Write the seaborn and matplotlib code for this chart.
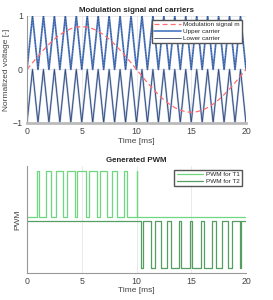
import matplotlib
matplotlib.use("Agg")
import matplotlib.pyplot as plt
import numpy as np
import seaborn as sns

# time grid (ms) shared by the modulation signal and the carrier vertices
t_grid = np.arange(0, 20.5, 0.5)

mod_m = [0.0, 0.125, 0.247, 0.363, 0.470, 0.566, 0.647, 0.713, 0.761, 0.790,
         0.800, 0.790, 0.761, 0.713, 0.647, 0.566, 0.470, 0.363, 0.247, 0.125,
         0.0, -0.125, -0.247, -0.363, -0.470, -0.566, -0.647, -0.713, -0.761, -0.790,
         -0.800, -0.790, -0.761, -0.713, -0.647, -0.566, -0.470, -0.363, -0.247, -0.125,
         0.0]

# triangle carriers (vertex values)
upper_c = [0, 1, 0, 1, 0, 1, 0, 1, 0, 1, 0, 1, 0, 1, 0, 1, 0, 1, 0, 1,
           0, 1, 0, 1, 0, 1, 0, 1, 0, 1, 0, 1, 0, 1, 0, 1, 0, 1, 0, 1, 0]
lower_c = [-1, 0, -1, 0, -1, 0, -1, 0, -1, 0, -1, 0, -1, 0, -1, 0, -1, 0, -1, 0,
           -1, 0, -1, 0, -1, 0, -1, 0, -1, 0, -1, 0, -1, 0, -1, 0, -1, 0, -1, 0, -1]

# PWM switching instants (ms) and states after each instant
t1_times = [0, 0.876, 1.124, 1.765, 2.235, 2.676, 3.324, 3.620, 4.380, 4.600, 5.400,
            5.620, 6.380, 6.676, 7.324, 7.765, 8.235, 8.876, 9.124, 10.0, 10.01, 20]
t1_state = [0, 1, 0, 1, 0, 1, 0, 1, 0, 1, 0, 1, 0, 1, 0, 1, 0, 1, 0, 1, 0, 0]
t2_times = [0, 10.437, 10.563, 11.318, 11.682, 12.217, 12.783, 13.144, 13.856, 14.105,
            14.895, 15.105, 15.895, 16.144, 16.856, 17.217, 17.783, 18.318, 18.682,
            19.437, 19.563, 20]
t2_state = [0, 1, 0, 1, 0, 1, 0, 1, 0, 1, 0, 1, 0, 1, 0, 1, 0, 1, 0, 1, 0, 0]

sns.set_style("white")
plt.rcParams['font.family'] = ['Liberation Sans', 'DejaVu Sans']

fig = plt.figure(figsize=(2.73, 3.0), dpi=100)
ax1 = fig.add_axes([0.099, 0.59, 0.802, 0.357])
ax2 = fig.add_axes([0.099, 0.091, 0.802, 0.356])

blue = '#5580c8'
navy = '#34476e'
leg_kw = dict(loc='upper right', fontsize=4.6, frameon=True, fancybox=False,
              edgecolor='#555555', framealpha=1, borderpad=0.35, labelspacing=0.2,
              handlelength=4.2, handletextpad=0.4, borderaxespad=0.6)

# top: modulation signal and carriers
sns.lineplot(x=t_grid, y=upper_c, ax=ax1, color=blue, lw=1.3,
             estimator=None, sort=False, label='Upper carrier')
sns.lineplot(x=t_grid, y=upper_c, ax=ax1, color=navy, lw=0.5, ls=(0, (2, 2)),
             estimator=None, sort=False, legend=False)
sns.lineplot(x=t_grid, y=lower_c, ax=ax1, color='#a8bde2', lw=1.4,
             estimator=None, sort=False, legend=False)
sns.lineplot(x=t_grid, y=lower_c, ax=ax1, color=navy, lw=0.6,
             estimator=None, sort=False, label='Lower carrier')
sns.lineplot(x=t_grid, y=mod_m, ax=ax1, color='#ff6f6f', lw=0.9, ls=(0, (4, 2.5)),
             estimator=None, sort=False, label='Modulation signal m')

ax1.set_xlim(0, 20)
ax1.set_ylim(-1, 1)
ax1.set_xticks([0, 5, 10, 15, 20])
ax1.set_yticks([-1, 0, 1])
ax1.set_title('Modulation signal and carriers', fontsize=5.7, fontweight='bold', pad=3)
ax1.set_xlabel('Time [ms]', fontsize=6, color='#444444', labelpad=1)
ax1.set_ylabel('Normalized voltage [-]', fontsize=6, color='#444444', labelpad=2)
h, l = ax1.get_legend_handles_labels()
order = [2, 0, 1]
ax1.legend([h[i] for i in order], [l[i] for i in order], **leg_kw)

# bottom: generated PWM
green1 = '#6fd77f'
green2 = '#559e62'
sns.lineplot(x=t1_times, y=[s + 0.04 for s in t1_state], ax=ax2, color=green1, lw=0.9,
             drawstyle='steps-post', estimator=None, sort=False, label='PWM for T1')
sns.lineplot(x=t2_times, y=[-s - 0.04 for s in t2_state], ax=ax2, color=green2, lw=0.9,
             drawstyle='steps-post', estimator=None, sort=False, label='PWM for T2')
ax2.set_xlim(0, 20)
ax2.set_ylim(-1.15, 1.15)
ax2.set_xticks([0, 5, 10, 15, 20])
ax2.set_yticks([])
ax2.set_title('Generated PWM', fontsize=5.7, fontweight='bold', pad=3)
ax2.set_xlabel('Time [ms]', fontsize=6, color='#444444', labelpad=1)
ax2.set_ylabel('PWM', fontsize=6, color='#444444', labelpad=4)
ax2.legend(**leg_kw)

for ax in (ax1, ax2):
    ax.grid(True, axis='x', color='#e6e6e6', lw=0.6)
    ax.set_axisbelow(True)
    for side in ('top', 'right'):
        ax.spines[side].set_visible(False)
    for side in ('left', 'bottom'):
        ax.spines[side].set_color('#999999')
        ax.spines[side].set_linewidth(0.8)
    ax.tick_params(labelsize=6.3, colors='#444444', length=0, pad=3)
ax1.grid(True, axis='y', color='#e6e6e6', lw=0.6)
ax1.spines['bottom'].set_linewidth(2)
ax1.spines['bottom'].set_color('#bbbbbb')

fig.savefig('out.png', dpi=100)
